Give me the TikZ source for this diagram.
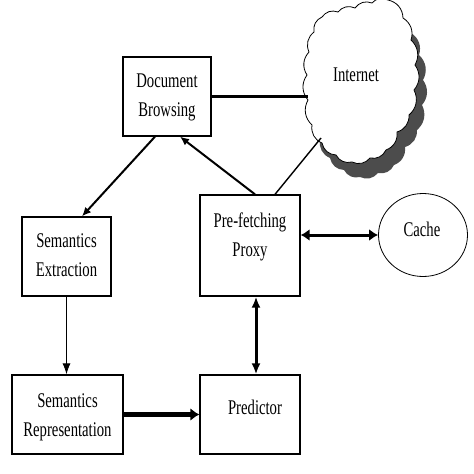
\documentclass[tikz,border=0pt]{standalone}
\usepackage{fontspec}
\setmainfont{Liberation Serif}
\usepackage{graphicx}
\usetikzlibrary{arrows.meta,shapes.geometric,calc}
\newcommand{\lbl}[1]{\scalebox{1}[1.42]{\begin{tabular}{@{}c@{}}#1\end{tabular}}}
\tikzset{bp/.style={bend left=38}}
\newcommand{\cloudoutline}{(308,100) to[bp] (307,75) to[bp] (309,52) to[bp] (314,32) to[bp] (322,17) to[bp] (338,12) to[bp] (355,8) to[bp] (372,3) to[bp] (388,0) to[bp] (403,18) to[bp] (411,40) to[bp] (415,65) to[bp] (414,90) to[bp] (409,115) to[bp] (397,132) to[bp] (386,150) to[bp] (370,158) to[bp] (352,162) to[bp] (336,155) to[bp] (322,143) to[bp] (312,125) to[bp] (308,100) -- cycle}
\begin{document}
\begin{tikzpicture}[x=1pt,y=-1pt,
  box/.style={draw, line width=1.3pt, inner sep=0pt},
  txt/.style={inner sep=0pt, font=\fontsize{14.7}{20.5}\selectfont},
  arr/.style={-{Latex[length=9pt,width=8pt]}},
]
\useasboundingbox (0,0) rectangle (474,474);
\fill[white] (0,0) rectangle (474,474);

% cloud with shadow
\begin{scope}[shift={(8,15)}]
  \fill[black!70] \cloudoutline;
\end{scope}
\draw[fill=white, line width=0.8pt] \cloudoutline;
\coordinate (internet) at (360,80);
\coordinate (inetleft) at (308,96);
\coordinate (inetlow) at (321,138);
\node[txt] (internettxt) at (356,76) {\lbl{Internet}};

% boxes
\node[box, minimum width=88pt, minimum height=79pt] (doc) at (167,96.5) {};
\node[txt] (doctxt) at (doc.center) {\lbl{Document\\Browsing}};

\node[box, minimum width=100pt, minimum height=101pt] (proxy) at (250,245.5) {};
\node[txt] (proxytxt) at ($(proxy.center)+(0,-9)$) {\lbl{Pre-fetching\\Proxy}};

\node[box, minimum width=89pt, minimum height=79pt] (se) at (66.5,256.5) {};
\node[txt] (setxt) at (se.center) {\lbl{Semantics\\Extraction}};

\node[box, minimum width=111pt, minimum height=79pt] (sr) at (67.5,414.5) {};
\node[txt] (srtxt) at ($(sr.center)+(0,1.5)$) {\lbl{Semantics\\Representation}};

\node[box, minimum width=100pt, minimum height=79pt] (pred) at (250,414.5) {};
\node[txt] (predtxt) at ($(pred.center)+(5,-5.5)$) {\lbl{Predictor}};

\node[ellipse, draw, line width=0.8pt, minimum width=89pt, minimum height=83pt, inner sep=0pt] (cache) at (423,235) {};
\node[txt] (cachetxt) at ($(cache.center)+(-1,-4)$) {\lbl{Cache}};

% connectors
\draw[line width=2.2pt] (doc.east) -- (doc.east -| inetleft);
\draw[line width=1.4pt] ($(proxy.north)+(25,0)$) -- (inetlow);
\draw[arr, line width=2pt] ($(doc.south)+(-12,0)$) -- ($(se.north)+(15.5,0)$);
\draw[arr, line width=2pt] ($(proxy.north)+(5,0)$) -- ($(doc.south)+(13,0)$);
\draw[{Latex[length=9pt,width=12pt]}-{Latex[length=9pt,width=12pt]}, line width=3pt] (proxy.east |- cache.west) -- (cache.west);
\draw[{Latex[length=11pt,width=9pt]}-{Latex[length=11pt,width=9pt]}, line width=3pt] ($(proxy.south)+(6,0)$) -- ($(pred.north)+(6,0)$);
\draw[-{Latex[length=11pt,width=8pt]}, line width=0.8pt] (se.south) -- (se.south |- sr.north);
\draw[-{Latex[length=9pt,width=13pt]}, line width=5pt] (sr.east) -- (pred.west);
\end{tikzpicture}
\end{document}
